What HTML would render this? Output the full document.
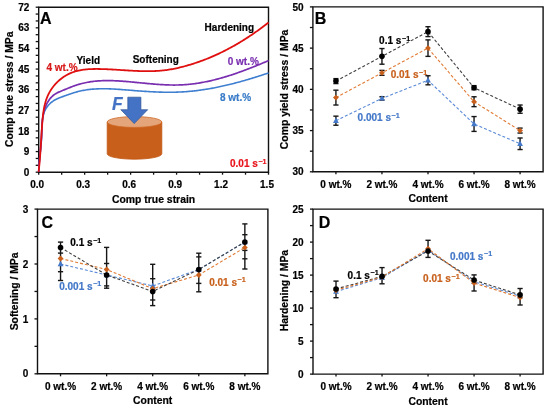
<!DOCTYPE html>
<html><head><meta charset="utf-8"><style>
html,body{margin:0;padding:0;background:#fff;width:550px;height:409px;overflow:hidden}
svg{display:block;filter:blur(0.35px)}
text{font-family:"Liberation Sans", sans-serif;font-weight:bold;stroke-width:0.2px;paint-order:normal}
</style></head><body>
<svg width="550" height="409" viewBox="0 0 550 409">
<rect width="550" height="409" fill="#fff"/>
<line x1="35.7" y1="172.2" x2="38.7" y2="172.2" stroke="#111" stroke-width="1.3" />
<text x="29.3" y="175.8" font-size="10" text-anchor="end" fill="#000" stroke="#000" >0</text>
<line x1="35.7" y1="165.32" x2="38.7" y2="165.32" stroke="#111" stroke-width="1.3" />
<line x1="35.7" y1="158.45" x2="38.7" y2="158.45" stroke="#111" stroke-width="1.3" />
<line x1="35.7" y1="151.57" x2="38.7" y2="151.57" stroke="#111" stroke-width="1.3" />
<text x="29.3" y="155.17" font-size="10" text-anchor="end" fill="#000" stroke="#000" >9</text>
<line x1="35.7" y1="144.7" x2="38.7" y2="144.7" stroke="#111" stroke-width="1.3" />
<line x1="35.7" y1="137.82" x2="38.7" y2="137.82" stroke="#111" stroke-width="1.3" />
<line x1="35.7" y1="130.95" x2="38.7" y2="130.95" stroke="#111" stroke-width="1.3" />
<text x="29.3" y="134.55" font-size="10" text-anchor="end" fill="#000" stroke="#000" >18</text>
<line x1="35.7" y1="124.07" x2="38.7" y2="124.07" stroke="#111" stroke-width="1.3" />
<line x1="35.7" y1="117.2" x2="38.7" y2="117.2" stroke="#111" stroke-width="1.3" />
<line x1="35.7" y1="110.32" x2="38.7" y2="110.32" stroke="#111" stroke-width="1.3" />
<text x="29.3" y="113.92" font-size="10" text-anchor="end" fill="#000" stroke="#000" >27</text>
<line x1="35.7" y1="103.45" x2="38.7" y2="103.45" stroke="#111" stroke-width="1.3" />
<line x1="35.7" y1="96.57" x2="38.7" y2="96.57" stroke="#111" stroke-width="1.3" />
<line x1="35.7" y1="89.7" x2="38.7" y2="89.7" stroke="#111" stroke-width="1.3" />
<text x="29.3" y="93.3" font-size="10" text-anchor="end" fill="#000" stroke="#000" >36</text>
<line x1="35.7" y1="82.82" x2="38.7" y2="82.82" stroke="#111" stroke-width="1.3" />
<line x1="35.7" y1="75.95" x2="38.7" y2="75.95" stroke="#111" stroke-width="1.3" />
<line x1="35.7" y1="69.07" x2="38.7" y2="69.07" stroke="#111" stroke-width="1.3" />
<text x="29.3" y="72.67" font-size="10" text-anchor="end" fill="#000" stroke="#000" >45</text>
<line x1="35.7" y1="62.2" x2="38.7" y2="62.2" stroke="#111" stroke-width="1.3" />
<line x1="35.7" y1="55.32" x2="38.7" y2="55.32" stroke="#111" stroke-width="1.3" />
<line x1="35.7" y1="48.45" x2="38.7" y2="48.45" stroke="#111" stroke-width="1.3" />
<text x="29.3" y="52.05" font-size="10" text-anchor="end" fill="#000" stroke="#000" >54</text>
<line x1="35.7" y1="41.57" x2="38.7" y2="41.57" stroke="#111" stroke-width="1.3" />
<line x1="35.7" y1="34.7" x2="38.7" y2="34.7" stroke="#111" stroke-width="1.3" />
<line x1="35.7" y1="27.82" x2="38.7" y2="27.82" stroke="#111" stroke-width="1.3" />
<text x="29.3" y="31.42" font-size="10" text-anchor="end" fill="#000" stroke="#000" >63</text>
<line x1="35.7" y1="20.95" x2="38.7" y2="20.95" stroke="#111" stroke-width="1.3" />
<line x1="35.7" y1="14.07" x2="38.7" y2="14.07" stroke="#111" stroke-width="1.3" />
<line x1="35.7" y1="7.2" x2="38.7" y2="7.2" stroke="#111" stroke-width="1.3" />
<text x="29.3" y="10.8" font-size="10" text-anchor="end" fill="#000" stroke="#000" >72</text>
<line x1="38.7" y1="172.2" x2="38.7" y2="174.7" stroke="#111" stroke-width="1.3" />
<text x="37.2" y="188" font-size="10" text-anchor="middle" fill="#000" stroke="#000" >0.0</text>
<line x1="61.68" y1="172.2" x2="61.68" y2="174.7" stroke="#111" stroke-width="1.3" />
<line x1="84.66" y1="172.2" x2="84.66" y2="174.7" stroke="#111" stroke-width="1.3" />
<text x="83.16" y="188" font-size="10" text-anchor="middle" fill="#000" stroke="#000" >0.3</text>
<line x1="107.64" y1="172.2" x2="107.64" y2="174.7" stroke="#111" stroke-width="1.3" />
<line x1="130.62" y1="172.2" x2="130.62" y2="174.7" stroke="#111" stroke-width="1.3" />
<text x="129.12" y="188" font-size="10" text-anchor="middle" fill="#000" stroke="#000" >0.6</text>
<line x1="153.6" y1="172.2" x2="153.6" y2="174.7" stroke="#111" stroke-width="1.3" />
<line x1="176.58" y1="172.2" x2="176.58" y2="174.7" stroke="#111" stroke-width="1.3" />
<text x="175.08" y="188" font-size="10" text-anchor="middle" fill="#000" stroke="#000" >0.9</text>
<line x1="199.56" y1="172.2" x2="199.56" y2="174.7" stroke="#111" stroke-width="1.3" />
<line x1="222.54" y1="172.2" x2="222.54" y2="174.7" stroke="#111" stroke-width="1.3" />
<text x="221.04" y="188" font-size="10" text-anchor="middle" fill="#000" stroke="#000" >1.2</text>
<line x1="245.52" y1="172.2" x2="245.52" y2="174.7" stroke="#111" stroke-width="1.3" />
<line x1="268.5" y1="172.2" x2="268.5" y2="174.7" stroke="#111" stroke-width="1.3" />
<text x="267" y="188" font-size="10" text-anchor="middle" fill="#000" stroke="#000" >1.5</text>
<path d="M38.7,172.2 V7.2 H268.5 V172.2 H38.7Z" fill="none" stroke="#111" stroke-width="1.4"/>
<text x="153.6" y="202.8" font-size="10.4" text-anchor="middle" fill="#000" stroke="#000" >Comp true strain</text>
<text transform="translate(13.0,89.2) rotate(-90)" font-size="10.4" text-anchor="middle" fill="#000" stroke="#000">Comp true stress / MPa</text>
<text x="40" y="23.6" font-size="16" text-anchor="start" fill="#000" stroke="#000" >A</text>
<path d="M38.74,172.04 L38.76,170.84 L38.79,169.65 L38.84,168.47 L38.89,167.30 L38.95,166.14 L39.03,164.99 L39.11,163.85 L39.20,162.72 L39.29,161.59 L39.39,160.47 L39.50,159.35 L39.61,158.24 L39.73,157.14 L39.84,156.03 L39.96,154.93 L40.08,153.84 L40.20,152.74 L40.33,151.64 L40.45,150.54 L40.57,149.44 L40.68,148.34 L40.80,147.24 L40.91,146.14 L41.01,145.03 L41.11,143.91 L41.20,142.79 L41.29,141.67 L41.37,140.53 L41.44,139.39 L41.50,138.24 L41.56,137.09 L41.60,135.92 L41.64,134.74 L41.67,133.56 L41.69,132.38 L41.72,131.19 L41.75,129.99 L41.78,128.80 L41.82,127.61 L41.87,126.42 L41.93,125.23 L42.00,124.05 L42.09,122.88 L42.20,121.71 L42.33,120.55 L42.48,119.41 L42.66,118.27 L42.87,117.15 L43.10,116.05 L43.37,114.96 L43.68,113.89 L44.02,112.84 L44.40,111.81 L44.83,110.80 L45.30,109.82 L45.81,108.86 L46.38,107.93 L46.99,107.03 L47.64,106.15 L48.34,105.31 L49.08,104.50 L49.86,103.71 L50.68,102.96 L51.53,102.24 L52.42,101.56 L53.33,100.91 L54.28,100.30 L55.26,99.72 L56.26,99.19 L57.29,98.69 L58.34,98.23 L59.40,97.80 L60.49,97.39 L61.58,97.00 L62.67,96.62 L63.76,96.23 L64.86,95.85 L65.95,95.46 L67.04,95.07 L68.14,94.69 L69.23,94.31 L70.32,93.94 L71.42,93.57 L72.51,93.21 L73.61,92.86 L74.70,92.52 L75.80,92.20 L76.90,91.89 L78.00,91.59 L79.10,91.32 L80.21,91.06 L81.31,90.81 L82.42,90.58 L83.53,90.37 L84.64,90.17 L85.76,89.99 L86.87,89.82 L87.99,89.66 L89.10,89.52 L90.22,89.39 L91.34,89.28 L92.46,89.17 L93.58,89.08 L94.71,89.00 L95.83,88.93 L96.96,88.88 L98.09,88.83 L99.21,88.79 L100.34,88.76 L101.47,88.75 L102.60,88.74 L103.74,88.74 L104.87,88.74 L106.00,88.76 L107.14,88.78 L108.27,88.81 L109.41,88.85 L110.54,88.89 L111.68,88.94 L112.82,89.00 L113.96,89.06 L115.09,89.12 L116.23,89.19 L117.37,89.26 L118.51,89.34 L119.65,89.42 L120.79,89.50 L121.93,89.59 L123.07,89.68 L124.21,89.77 L125.35,89.86 L126.49,89.95 L127.63,90.04 L128.77,90.13 L129.91,90.23 L131.05,90.32 L132.19,90.41 L133.33,90.50 L134.47,90.59 L135.61,90.68 L136.75,90.77 L137.89,90.85 L139.02,90.94 L140.16,91.02 L141.30,91.10 L142.44,91.18 L143.58,91.26 L144.72,91.34 L145.85,91.41 L146.99,91.48 L148.13,91.55 L149.26,91.62 L150.40,91.68 L151.54,91.75 L152.67,91.80 L153.81,91.86 L154.95,91.91 L156.08,91.96 L157.22,92.01 L158.35,92.05 L159.49,92.09 L160.63,92.12 L161.76,92.15 L162.90,92.18 L164.03,92.20 L165.16,92.22 L166.30,92.24 L167.43,92.25 L168.57,92.25 L169.70,92.25 L170.84,92.25 L171.97,92.24 L173.10,92.22 L174.24,92.20 L175.37,92.18 L176.50,92.15 L177.63,92.11 L178.77,92.07 L179.90,92.02 L181.03,91.97 L182.16,91.91 L183.30,91.84 L184.43,91.77 L185.56,91.69 L186.69,91.61 L187.82,91.52 L188.95,91.42 L190.08,91.32 L191.21,91.21 L192.34,91.10 L193.47,90.98 L194.60,90.85 L195.73,90.72 L196.86,90.59 L197.99,90.45 L199.11,90.30 L200.24,90.15 L201.37,89.99 L202.49,89.83 L203.62,89.66 L204.75,89.48 L205.87,89.31 L206.99,89.12 L208.12,88.94 L209.24,88.74 L210.36,88.55 L211.49,88.34 L212.61,88.14 L213.73,87.93 L214.85,87.71 L215.97,87.49 L217.09,87.26 L218.21,87.04 L219.32,86.80 L220.44,86.56 L221.55,86.32 L222.67,86.08 L223.78,85.83 L224.90,85.57 L226.01,85.32 L227.12,85.06 L228.23,84.79 L229.34,84.52 L230.45,84.25 L231.56,83.97 L232.67,83.69 L233.77,83.41 L234.88,83.13 L235.98,82.84 L237.09,82.54 L238.19,82.25 L239.29,81.95 L240.39,81.65 L241.49,81.34 L242.59,81.03 L243.69,80.72 L244.78,80.41 L245.88,80.09 L246.97,79.77 L248.06,79.45 L249.15,79.13 L250.24,78.80 L251.33,78.47 L252.42,78.14 L253.51,77.80 L254.59,77.47 L255.67,77.13 L256.76,76.79 L257.84,76.45 L258.92,76.10 L260.00,75.76 L261.07,75.41 L262.15,75.06 L263.22,74.71 L264.29,74.35 L265.37,74.00 L266.44,73.64 L267.50,73.28 L268.57,72.92" fill="none" stroke="#3f7fd0" stroke-width="1.6"/>
<path d="M38.73,172.02 L38.77,170.83 L38.82,169.65 L38.88,168.47 L38.94,167.29 L39.01,166.12 L39.09,164.95 L39.18,163.79 L39.27,162.63 L39.36,161.47 L39.46,160.31 L39.56,159.16 L39.67,158.01 L39.78,156.86 L39.89,155.71 L40.00,154.56 L40.12,153.41 L40.23,152.26 L40.34,151.11 L40.46,149.97 L40.57,148.82 L40.68,147.67 L40.79,146.52 L40.89,145.37 L40.99,144.22 L41.09,143.06 L41.18,141.91 L41.27,140.75 L41.35,139.58 L41.43,138.42 L41.50,137.25 L41.56,136.08 L41.62,134.91 L41.67,133.73 L41.72,132.55 L41.77,131.37 L41.82,130.18 L41.87,129.00 L41.92,127.82 L41.98,126.64 L42.05,125.46 L42.12,124.28 L42.21,123.10 L42.30,121.93 L42.41,120.76 L42.54,119.59 L42.68,118.43 L42.84,117.27 L43.01,116.12 L43.21,114.97 L43.44,113.83 L43.68,112.70 L43.95,111.58 L44.25,110.46 L44.58,109.35 L44.94,108.25 L45.34,107.17 L45.76,106.09 L46.22,105.02 L46.72,103.97 L47.25,102.94 L47.82,101.93 L48.43,100.94 L49.07,99.98 L49.75,99.06 L50.47,98.16 L51.23,97.31 L52.03,96.50 L52.87,95.73 L53.74,95.00 L54.66,94.33 L55.62,93.72 L56.62,93.15 L57.64,92.62 L58.70,92.13 L59.77,91.66 L60.86,91.20 L61.96,90.75 L63.06,90.30 L64.16,89.85 L65.26,89.40 L66.37,88.95 L67.47,88.49 L68.58,88.05 L69.69,87.60 L70.80,87.16 L71.91,86.74 L73.03,86.32 L74.14,85.91 L75.26,85.51 L76.38,85.14 L77.50,84.77 L78.62,84.43 L79.74,84.10 L80.87,83.79 L82.00,83.49 L83.13,83.22 L84.26,82.96 L85.39,82.71 L86.52,82.48 L87.66,82.27 L88.79,82.07 L89.93,81.88 L91.07,81.71 L92.21,81.56 L93.35,81.41 L94.49,81.28 L95.64,81.17 L96.78,81.06 L97.93,80.97 L99.08,80.89 L100.23,80.82 L101.38,80.76 L102.53,80.71 L103.68,80.67 L104.83,80.65 L105.98,80.63 L107.14,80.62 L108.29,80.62 L109.45,80.63 L110.61,80.65 L111.76,80.67 L112.92,80.71 L114.08,80.75 L115.24,80.79 L116.40,80.85 L117.56,80.91 L118.72,80.97 L119.89,81.04 L121.05,81.12 L122.21,81.20 L123.38,81.29 L124.54,81.37 L125.70,81.47 L126.87,81.57 L128.03,81.66 L129.20,81.77 L130.36,81.87 L131.53,81.98 L132.69,82.09 L133.86,82.20 L135.02,82.31 L136.19,82.42 L137.35,82.54 L138.52,82.65 L139.69,82.77 L140.85,82.88 L142.02,82.99 L143.18,83.11 L144.35,83.22 L145.52,83.33 L146.68,83.44 L147.85,83.55 L149.01,83.66 L150.18,83.76 L151.34,83.87 L152.51,83.97 L153.68,84.06 L154.84,84.16 L156.01,84.25 L157.17,84.33 L158.34,84.42 L159.50,84.50 L160.66,84.57 L161.83,84.64 L162.99,84.71 L164.16,84.77 L165.32,84.82 L166.48,84.87 L167.65,84.91 L168.81,84.95 L169.97,84.98 L171.13,85.00 L172.29,85.02 L173.45,85.03 L174.61,85.03 L175.77,85.02 L176.93,85.01 L178.09,84.98 L179.25,84.95 L180.41,84.91 L181.57,84.86 L182.73,84.80 L183.88,84.74 L185.04,84.66 L186.19,84.57 L187.35,84.48 L188.50,84.37 L189.66,84.26 L190.81,84.14 L191.96,84.00 L193.11,83.86 L194.27,83.72 L195.42,83.56 L196.56,83.39 L197.71,83.22 L198.86,83.04 L200.01,82.85 L201.15,82.65 L202.30,82.45 L203.44,82.24 L204.59,82.02 L205.73,81.79 L206.87,81.56 L208.01,81.32 L209.15,81.07 L210.29,80.81 L211.43,80.55 L212.56,80.28 L213.70,80.01 L214.83,79.73 L215.97,79.44 L217.10,79.15 L218.23,78.85 L219.36,78.54 L220.49,78.23 L221.61,77.92 L222.74,77.59 L223.86,77.27 L224.99,76.93 L226.11,76.59 L227.23,76.25 L228.35,75.90 L229.47,75.55 L230.58,75.19 L231.70,74.83 L232.81,74.46 L233.92,74.09 L235.03,73.71 L236.14,73.33 L237.25,72.95 L238.35,72.56 L239.46,72.17 L240.56,71.78 L241.66,71.38 L242.76,70.98 L243.86,70.57 L244.95,70.16 L246.05,69.75 L247.14,69.33 L248.23,68.92 L249.32,68.50 L250.41,68.07 L251.49,67.65 L252.57,67.22 L253.65,66.79 L254.73,66.36 L255.81,65.92 L256.89,65.48 L257.96,65.05 L259.03,64.61 L260.10,64.16 L261.17,63.72 L262.23,63.28 L263.30,62.83 L264.36,62.38 L265.42,61.94 L266.47,61.49 L267.53,61.04 L268.58,60.59" fill="none" stroke="#7a2fb0" stroke-width="1.7"/>
<path d="M38.58,171.97 L38.72,170.73 L38.86,169.50 L38.99,168.26 L39.12,167.03 L39.25,165.79 L39.37,164.56 L39.48,163.33 L39.59,162.10 L39.70,160.88 L39.81,159.65 L39.91,158.42 L40.00,157.20 L40.10,155.97 L40.19,154.75 L40.28,153.53 L40.37,152.30 L40.45,151.08 L40.53,149.86 L40.61,148.63 L40.69,147.41 L40.77,146.18 L40.85,144.96 L40.92,143.73 L41.00,142.51 L41.07,141.28 L41.15,140.05 L41.22,138.82 L41.30,137.59 L41.37,136.36 L41.45,135.13 L41.52,133.89 L41.60,132.66 L41.68,131.42 L41.76,130.18 L41.84,128.94 L41.92,127.69 L42.01,126.44 L42.10,125.19 L42.19,123.94 L42.28,122.69 L42.38,121.43 L42.48,120.18 L42.59,118.92 L42.71,117.67 L42.84,116.41 L42.98,115.16 L43.14,113.91 L43.30,112.67 L43.48,111.42 L43.68,110.19 L43.89,108.95 L44.12,107.73 L44.37,106.51 L44.64,105.30 L44.93,104.09 L45.24,102.90 L45.58,101.72 L45.94,100.54 L46.33,99.38 L46.75,98.22 L47.20,97.08 L47.68,95.95 L48.18,94.84 L48.72,93.74 L49.29,92.65 L49.90,91.58 L50.53,90.53 L51.19,89.49 L51.88,88.48 L52.60,87.48 L53.34,86.50 L54.12,85.54 L54.91,84.60 L55.74,83.68 L56.58,82.79 L57.45,81.92 L58.35,81.08 L59.26,80.25 L60.20,79.46 L61.15,78.69 L62.13,77.95 L63.12,77.24 L64.14,76.55 L65.17,75.90 L66.22,75.28 L67.28,74.68 L68.36,74.12 L69.46,73.60 L70.57,73.10 L71.69,72.64 L72.83,72.22 L73.97,71.82 L75.13,71.46 L76.30,71.13 L77.48,70.83 L78.67,70.55 L79.87,70.30 L81.08,70.08 L82.29,69.88 L83.51,69.71 L84.74,69.55 L85.97,69.42 L87.21,69.31 L88.46,69.21 L89.71,69.14 L90.96,69.07 L92.21,69.03 L93.47,69.00 L94.73,68.98 L95.99,68.97 L97.25,68.97 L98.51,68.98 L99.77,69.00 L101.03,69.03 L102.28,69.06 L103.54,69.10 L104.79,69.14 L106.05,69.19 L107.30,69.24 L108.55,69.30 L109.80,69.36 L111.04,69.42 L112.29,69.49 L113.54,69.56 L114.78,69.64 L116.02,69.71 L117.26,69.79 L118.51,69.87 L119.75,69.95 L120.98,70.03 L122.22,70.11 L123.46,70.19 L124.70,70.27 L125.93,70.35 L127.16,70.43 L128.40,70.51 L129.63,70.58 L130.86,70.65 L132.09,70.72 L133.33,70.79 L134.56,70.85 L135.78,70.91 L137.01,70.96 L138.24,71.01 L139.47,71.06 L140.70,71.10 L141.92,71.13 L143.15,71.16 L144.37,71.18 L145.60,71.20 L146.82,71.20 L148.05,71.20 L149.27,71.19 L150.50,71.18 L151.72,71.15 L152.94,71.12 L154.17,71.07 L155.39,71.02 L156.61,70.95 L157.84,70.88 L159.06,70.79 L160.28,70.69 L161.51,70.58 L162.73,70.46 L163.95,70.33 L165.17,70.18 L166.40,70.02 L167.62,69.85 L168.84,69.66 L170.06,69.47 L171.29,69.26 L172.51,69.04 L173.73,68.80 L174.95,68.56 L176.16,68.31 L177.38,68.04 L178.59,67.77 L179.81,67.48 L181.02,67.19 L182.23,66.88 L183.44,66.57 L184.64,66.25 L185.85,65.92 L187.05,65.58 L188.24,65.24 L189.44,64.88 L190.63,64.52 L191.82,64.16 L193.00,63.78 L194.19,63.40 L195.37,63.01 L196.54,62.62 L197.72,62.22 L198.89,61.81 L200.05,61.39 L201.22,60.97 L202.38,60.54 L203.54,60.11 L204.69,59.66 L205.85,59.22 L206.99,58.76 L208.14,58.30 L209.28,57.83 L210.42,57.36 L211.56,56.87 L212.69,56.39 L213.83,55.89 L214.95,55.39 L216.08,54.89 L217.20,54.37 L218.32,53.85 L219.43,53.33 L220.55,52.80 L221.66,52.26 L222.76,51.72 L223.87,51.17 L224.97,50.61 L226.07,50.05 L227.16,49.48 L228.25,48.91 L229.34,48.33 L230.43,47.75 L231.51,47.15 L232.59,46.56 L233.67,45.96 L234.75,45.35 L235.82,44.73 L236.89,44.12 L237.95,43.49 L239.01,42.86 L240.07,42.23 L241.13,41.58 L242.18,40.94 L243.23,40.29 L244.28,39.63 L245.33,38.97 L246.37,38.30 L247.41,37.63 L248.44,36.96 L249.48,36.28 L250.51,35.59 L251.54,34.90 L252.56,34.21 L253.58,33.51 L254.60,32.80 L255.62,32.10 L256.63,31.38 L257.64,30.67 L258.64,29.95 L259.65,29.22 L260.65,28.49 L261.65,27.76 L262.64,27.02 L263.63,26.28 L264.62,25.54 L265.61,24.79 L266.59,24.04 L267.57,23.28 L268.55,22.53" fill="none" stroke="#e01010" stroke-width="1.8"/>
<text x="76.5" y="63.5" font-size="10" text-anchor="start" fill="#000" stroke="#000" >Yield</text>
<text x="132.7" y="63.3" font-size="10" text-anchor="start" fill="#000" stroke="#000" >Softening</text>
<text x="204.6" y="30.8" font-size="10" text-anchor="start" fill="#000" stroke="#000" >Hardening</text>
<text x="46.5" y="71" font-size="10" text-anchor="start" fill="#d81a1a" stroke="#d81a1a" >4 wt.%</text>
<text x="227.7" y="64.6" font-size="10" text-anchor="start" fill="#7a2fb0" stroke="#7a2fb0" >0 wt.%</text>
<text x="220" y="100.6" font-size="10" text-anchor="start" fill="#3a7cc8" stroke="#3a7cc8" >8 wt.%</text>
<text x="230" y="167.4" font-size="10" text-anchor="start" fill="#e8141c" stroke="#e8141c">0.01 s<tspan font-size="7.2" dx="0.6" dy="-3.4">−1</tspan></text>
<path d="M107.2,122 V153.8 A27.3,5.4 0 0 0 161.8,153.8 V122 Z" fill="#c85f1a" stroke="#c25612" stroke-width="0.8"/>
<ellipse cx="134.5" cy="122" rx="27.3" ry="5.4" fill="#e5a57b" stroke="#cf6a28" stroke-width="0.8"/>
<path d="M127.8,97.2 H140.9 V109.7 H147.7 L134.2,123.6 L120.8,109.7 H127.8 Z" fill="#4472c4" stroke="#2f5597" stroke-width="0.7"/>
<text x="112.0" y="109.6" font-size="17.5" font-style="italic" fill="#4472c4" stroke="#4472c4" stroke-width="0.45">F</text>
<line x1="309.9" y1="171.8" x2="312.9" y2="171.8" stroke="#111" stroke-width="1.3" />
<text x="303.6" y="175.4" font-size="10" text-anchor="end" fill="#000" stroke="#000" >30</text>
<line x1="309.9" y1="151.19" x2="312.9" y2="151.19" stroke="#111" stroke-width="1.3" />
<line x1="309.9" y1="130.58" x2="312.9" y2="130.58" stroke="#111" stroke-width="1.3" />
<text x="303.6" y="134.18" font-size="10" text-anchor="end" fill="#000" stroke="#000" >35</text>
<line x1="309.9" y1="109.96" x2="312.9" y2="109.96" stroke="#111" stroke-width="1.3" />
<line x1="309.9" y1="89.35" x2="312.9" y2="89.35" stroke="#111" stroke-width="1.3" />
<text x="303.6" y="92.95" font-size="10" text-anchor="end" fill="#000" stroke="#000" >40</text>
<line x1="309.9" y1="68.74" x2="312.9" y2="68.74" stroke="#111" stroke-width="1.3" />
<line x1="309.9" y1="48.12" x2="312.9" y2="48.12" stroke="#111" stroke-width="1.3" />
<text x="303.6" y="51.73" font-size="10" text-anchor="end" fill="#000" stroke="#000" >45</text>
<line x1="309.9" y1="27.51" x2="312.9" y2="27.51" stroke="#111" stroke-width="1.3" />
<line x1="309.9" y1="6.9" x2="312.9" y2="6.9" stroke="#111" stroke-width="1.3" />
<text x="303.6" y="10.5" font-size="10" text-anchor="end" fill="#000" stroke="#000" >50</text>
<line x1="335.92" y1="171.8" x2="335.92" y2="174.3" stroke="#111" stroke-width="1.3" />
<text x="335.92" y="188.1" font-size="10" text-anchor="middle" fill="#000" stroke="#000" >0 wt.%</text>
<line x1="381.96" y1="171.8" x2="381.96" y2="174.3" stroke="#111" stroke-width="1.3" />
<text x="381.96" y="188.1" font-size="10" text-anchor="middle" fill="#000" stroke="#000" >2 wt.%</text>
<line x1="428" y1="171.8" x2="428" y2="174.3" stroke="#111" stroke-width="1.3" />
<text x="428" y="188.1" font-size="10" text-anchor="middle" fill="#000" stroke="#000" >4 wt.%</text>
<line x1="474.04" y1="171.8" x2="474.04" y2="174.3" stroke="#111" stroke-width="1.3" />
<text x="474.04" y="188.1" font-size="10" text-anchor="middle" fill="#000" stroke="#000" >6 wt.%</text>
<line x1="520.08" y1="171.8" x2="520.08" y2="174.3" stroke="#111" stroke-width="1.3" />
<text x="520.08" y="188.1" font-size="10" text-anchor="middle" fill="#000" stroke="#000" >8 wt.%</text>
<path d="M312.9,171.8 V6.9 H543.1 V171.8 H312.9Z" fill="none" stroke="#111" stroke-width="1.4"/>
<text x="428" y="202.3" font-size="10.4" text-anchor="middle" fill="#000" stroke="#000" >Content</text>
<text x="314.8" y="23.6" font-size="16" text-anchor="start" fill="#000" stroke="#000" >B</text>
<text transform="translate(287.6,89.4) rotate(-90)" font-size="10.4" text-anchor="middle" fill="#000" stroke="#000">Comp yield stress / MPa</text>
<polyline points="335.92,81.11 381.96,56.37 428,31.64 474.04,87.7 520.08,109.14" fill="none" stroke="#404040" stroke-width="1.1" stroke-dasharray="3 2"/>
<polyline points="335.92,97.6 381.96,72.86 428,48.12 474.04,101.72 520.08,130.58" fill="none" stroke="#e07a34" stroke-width="1.1" stroke-dasharray="3 2"/>
<polyline points="335.92,120.68 381.96,98.42 428,80.28 474.04,123.98 520.08,143.77" fill="none" stroke="#5a8ad6" stroke-width="1.1" stroke-dasharray="3 2"/>
<line x1="335.92" y1="78.63" x2="335.92" y2="83.58" stroke="#161616" stroke-width="1.4" />
<line x1="333.32" y1="78.63" x2="338.52" y2="78.63" stroke="#161616" stroke-width="1.4" />
<line x1="333.32" y1="83.58" x2="338.52" y2="83.58" stroke="#161616" stroke-width="1.4" />
<line x1="381.96" y1="48.54" x2="381.96" y2="64.2" stroke="#161616" stroke-width="1.4" />
<line x1="379.36" y1="48.54" x2="384.56" y2="48.54" stroke="#161616" stroke-width="1.4" />
<line x1="379.36" y1="64.2" x2="384.56" y2="64.2" stroke="#161616" stroke-width="1.4" />
<line x1="428" y1="26.69" x2="428" y2="36.58" stroke="#161616" stroke-width="1.4" />
<line x1="425.4" y1="26.69" x2="430.6" y2="26.69" stroke="#161616" stroke-width="1.4" />
<line x1="425.4" y1="36.58" x2="430.6" y2="36.58" stroke="#161616" stroke-width="1.4" />
<line x1="474.04" y1="85.64" x2="474.04" y2="89.76" stroke="#161616" stroke-width="1.4" />
<line x1="471.44" y1="85.64" x2="476.64" y2="85.64" stroke="#161616" stroke-width="1.4" />
<line x1="471.44" y1="89.76" x2="476.64" y2="89.76" stroke="#161616" stroke-width="1.4" />
<line x1="520.08" y1="105.02" x2="520.08" y2="113.26" stroke="#161616" stroke-width="1.4" />
<line x1="517.48" y1="105.02" x2="522.68" y2="105.02" stroke="#161616" stroke-width="1.4" />
<line x1="517.48" y1="113.26" x2="522.68" y2="113.26" stroke="#161616" stroke-width="1.4" />
<line x1="335.92" y1="90.17" x2="335.92" y2="105.02" stroke="#161616" stroke-width="1.4" />
<line x1="333.32" y1="90.17" x2="338.52" y2="90.17" stroke="#161616" stroke-width="1.4" />
<line x1="333.32" y1="105.02" x2="338.52" y2="105.02" stroke="#161616" stroke-width="1.4" />
<line x1="381.96" y1="70.39" x2="381.96" y2="75.33" stroke="#161616" stroke-width="1.4" />
<line x1="379.36" y1="70.39" x2="384.56" y2="70.39" stroke="#161616" stroke-width="1.4" />
<line x1="379.36" y1="75.33" x2="384.56" y2="75.33" stroke="#161616" stroke-width="1.4" />
<line x1="428" y1="39.88" x2="428" y2="56.37" stroke="#161616" stroke-width="1.4" />
<line x1="425.4" y1="39.88" x2="430.6" y2="39.88" stroke="#161616" stroke-width="1.4" />
<line x1="425.4" y1="56.37" x2="430.6" y2="56.37" stroke="#161616" stroke-width="1.4" />
<line x1="474.04" y1="96.77" x2="474.04" y2="106.66" stroke="#161616" stroke-width="1.4" />
<line x1="471.44" y1="96.77" x2="476.64" y2="96.77" stroke="#161616" stroke-width="1.4" />
<line x1="471.44" y1="106.66" x2="476.64" y2="106.66" stroke="#161616" stroke-width="1.4" />
<line x1="520.08" y1="128.1" x2="520.08" y2="133.05" stroke="#161616" stroke-width="1.4" />
<line x1="517.48" y1="128.1" x2="522.68" y2="128.1" stroke="#161616" stroke-width="1.4" />
<line x1="517.48" y1="133.05" x2="522.68" y2="133.05" stroke="#161616" stroke-width="1.4" />
<line x1="335.92" y1="116.15" x2="335.92" y2="125.22" stroke="#161616" stroke-width="1.4" />
<line x1="333.32" y1="116.15" x2="338.52" y2="116.15" stroke="#161616" stroke-width="1.4" />
<line x1="333.32" y1="125.22" x2="338.52" y2="125.22" stroke="#161616" stroke-width="1.4" />
<line x1="381.96" y1="96.77" x2="381.96" y2="100.07" stroke="#161616" stroke-width="1.4" />
<line x1="379.36" y1="96.77" x2="384.56" y2="96.77" stroke="#161616" stroke-width="1.4" />
<line x1="379.36" y1="100.07" x2="384.56" y2="100.07" stroke="#161616" stroke-width="1.4" />
<line x1="428" y1="75.75" x2="428" y2="84.82" stroke="#161616" stroke-width="1.4" />
<line x1="425.4" y1="75.75" x2="430.6" y2="75.75" stroke="#161616" stroke-width="1.4" />
<line x1="425.4" y1="84.82" x2="430.6" y2="84.82" stroke="#161616" stroke-width="1.4" />
<line x1="474.04" y1="116.56" x2="474.04" y2="131.4" stroke="#161616" stroke-width="1.4" />
<line x1="471.44" y1="116.56" x2="476.64" y2="116.56" stroke="#161616" stroke-width="1.4" />
<line x1="471.44" y1="131.4" x2="476.64" y2="131.4" stroke="#161616" stroke-width="1.4" />
<line x1="520.08" y1="138" x2="520.08" y2="149.54" stroke="#161616" stroke-width="1.4" />
<line x1="517.48" y1="138" x2="522.68" y2="138" stroke="#161616" stroke-width="1.4" />
<line x1="517.48" y1="149.54" x2="522.68" y2="149.54" stroke="#161616" stroke-width="1.4" />
<path d="M335.92,117.48 L338.82,122.88 L333.02,122.88 Z" fill="#4478c8"/>
<path d="M381.96,95.22 L384.86,100.62 L379.06,100.62 Z" fill="#4478c8"/>
<path d="M428,77.08 L430.9,82.48 L425.1,82.48 Z" fill="#4478c8"/>
<path d="M474.04,120.78 L476.94,126.18 L471.14,126.18 Z" fill="#4478c8"/>
<path d="M520.08,140.57 L522.98,145.97 L517.18,145.97 Z" fill="#4478c8"/>
<path d="M335.92,94.7 L338.82,97.6 L335.92,100.5 L333.02,97.6 Z" fill="#c8601c"/>
<path d="M381.96,69.96 L384.86,72.86 L381.96,75.76 L379.06,72.86 Z" fill="#c8601c"/>
<path d="M428,45.23 L430.9,48.12 L428,51.02 L425.1,48.12 Z" fill="#c8601c"/>
<path d="M474.04,98.82 L476.94,101.72 L474.04,104.62 L471.14,101.72 Z" fill="#c8601c"/>
<path d="M520.08,127.68 L522.98,130.58 L520.08,133.48 L517.18,130.58 Z" fill="#c8601c"/>
<circle cx="335.92" cy="81.11" r="2.8" fill="#000"/>
<circle cx="381.96" cy="56.37" r="2.8" fill="#000"/>
<circle cx="428" cy="31.64" r="2.8" fill="#000"/>
<circle cx="474.04" cy="87.7" r="2.8" fill="#000"/>
<circle cx="520.08" cy="109.14" r="2.8" fill="#000"/>
<text x="379.1" y="44.4" font-size="10" text-anchor="start" fill="#000" stroke="#000">0.1 s<tspan font-size="7.2" dx="0.6" dy="-3.4">−1</tspan></text>
<text x="390.7" y="78.2" font-size="10" text-anchor="start" fill="#c8601c" stroke="#c8601c">0.01 s<tspan font-size="7.2" dx="0.6" dy="-3.4">−1</tspan></text>
<text x="357.6" y="121.2" font-size="10" text-anchor="start" fill="#4478c8" stroke="#4478c8">0.001 s<tspan font-size="7.2" dx="0.6" dy="-3.4">−1</tspan></text>
<line x1="34.5" y1="373.8" x2="37.5" y2="373.8" stroke="#111" stroke-width="1.3" />
<text x="28.4" y="377.4" font-size="10" text-anchor="end" fill="#000" stroke="#000" >0</text>
<line x1="34.5" y1="346.35" x2="37.5" y2="346.35" stroke="#111" stroke-width="1.3" />
<line x1="34.5" y1="318.9" x2="37.5" y2="318.9" stroke="#111" stroke-width="1.3" />
<text x="28.4" y="322.5" font-size="10" text-anchor="end" fill="#000" stroke="#000" >1</text>
<line x1="34.5" y1="291.45" x2="37.5" y2="291.45" stroke="#111" stroke-width="1.3" />
<line x1="34.5" y1="264" x2="37.5" y2="264" stroke="#111" stroke-width="1.3" />
<text x="28.4" y="267.6" font-size="10" text-anchor="end" fill="#000" stroke="#000" >2</text>
<line x1="34.5" y1="236.55" x2="37.5" y2="236.55" stroke="#111" stroke-width="1.3" />
<line x1="34.5" y1="209.1" x2="37.5" y2="209.1" stroke="#111" stroke-width="1.3" />
<text x="28.4" y="212.7" font-size="10" text-anchor="end" fill="#000" stroke="#000" >3</text>
<line x1="60.54" y1="373.8" x2="60.54" y2="376.3" stroke="#111" stroke-width="1.3" />
<text x="60.54" y="390.1" font-size="10" text-anchor="middle" fill="#000" stroke="#000" >0 wt.%</text>
<line x1="106.62" y1="373.8" x2="106.62" y2="376.3" stroke="#111" stroke-width="1.3" />
<text x="106.62" y="390.1" font-size="10" text-anchor="middle" fill="#000" stroke="#000" >2 wt.%</text>
<line x1="152.7" y1="373.8" x2="152.7" y2="376.3" stroke="#111" stroke-width="1.3" />
<text x="152.7" y="390.1" font-size="10" text-anchor="middle" fill="#000" stroke="#000" >4 wt.%</text>
<line x1="198.78" y1="373.8" x2="198.78" y2="376.3" stroke="#111" stroke-width="1.3" />
<text x="198.78" y="390.1" font-size="10" text-anchor="middle" fill="#000" stroke="#000" >6 wt.%</text>
<line x1="244.86" y1="373.8" x2="244.86" y2="376.3" stroke="#111" stroke-width="1.3" />
<text x="244.86" y="390.1" font-size="10" text-anchor="middle" fill="#000" stroke="#000" >8 wt.%</text>
<path d="M37.5,373.8 V209.1 H267.9 V373.8 H37.5Z" fill="none" stroke="#111" stroke-width="1.4"/>
<text x="152.7" y="404.3" font-size="10.4" text-anchor="middle" fill="#000" stroke="#000" >Content</text>
<text x="41.5" y="228.2" font-size="16" text-anchor="start" fill="#000" stroke="#000" >C</text>
<text transform="translate(17.6,291.4) rotate(-90)" font-size="10.4" text-anchor="middle" fill="#000" stroke="#000">Softening / MPa</text>
<polyline points="60.54,264 106.62,274.98 152.7,285.96 198.78,269.49 244.86,242.04" fill="none" stroke="#5a8ad6" stroke-width="1.1" stroke-dasharray="3 2"/>
<polyline points="60.54,258.51 106.62,269.49 152.7,288.7 198.78,274.98 244.86,247.53" fill="none" stroke="#e07a34" stroke-width="1.1" stroke-dasharray="3 2"/>
<polyline points="60.54,247.53 106.62,274.98 152.7,291.45 198.78,269.49 244.86,242.04" fill="none" stroke="#404040" stroke-width="1.1" stroke-dasharray="3 2"/>
<line x1="60.54" y1="242.1" x2="60.54" y2="280.5" stroke="#161616" stroke-width="1.4" />
<line x1="57.94" y1="242.1" x2="63.14" y2="242.1" stroke="#161616" stroke-width="1.4" />
<line x1="57.94" y1="253.1" x2="63.14" y2="253.1" stroke="#161616" stroke-width="1.4" />
<line x1="57.94" y1="271.7" x2="63.14" y2="271.7" stroke="#161616" stroke-width="1.4" />
<line x1="57.94" y1="280.5" x2="63.14" y2="280.5" stroke="#161616" stroke-width="1.4" />
<line x1="106.62" y1="247.4" x2="106.62" y2="288.2" stroke="#161616" stroke-width="1.4" />
<line x1="104.02" y1="247.4" x2="109.22" y2="247.4" stroke="#161616" stroke-width="1.4" />
<line x1="104.02" y1="263.5" x2="109.22" y2="263.5" stroke="#161616" stroke-width="1.4" />
<line x1="104.02" y1="285.9" x2="109.22" y2="285.9" stroke="#161616" stroke-width="1.4" />
<line x1="104.02" y1="288.2" x2="109.22" y2="288.2" stroke="#161616" stroke-width="1.4" />
<line x1="152.7" y1="264.3" x2="152.7" y2="305.6" stroke="#161616" stroke-width="1.4" />
<line x1="150.1" y1="264.3" x2="155.3" y2="264.3" stroke="#161616" stroke-width="1.4" />
<line x1="150.1" y1="278.7" x2="155.3" y2="278.7" stroke="#161616" stroke-width="1.4" />
<line x1="150.1" y1="300" x2="155.3" y2="300" stroke="#161616" stroke-width="1.4" />
<line x1="150.1" y1="305.6" x2="155.3" y2="305.6" stroke="#161616" stroke-width="1.4" />
<line x1="198.78" y1="253.2" x2="198.78" y2="291.8" stroke="#161616" stroke-width="1.4" />
<line x1="196.18" y1="253.2" x2="201.38" y2="253.2" stroke="#161616" stroke-width="1.4" />
<line x1="196.18" y1="256.9" x2="201.38" y2="256.9" stroke="#161616" stroke-width="1.4" />
<line x1="196.18" y1="283.4" x2="201.38" y2="283.4" stroke="#161616" stroke-width="1.4" />
<line x1="196.18" y1="291.8" x2="201.38" y2="291.8" stroke="#161616" stroke-width="1.4" />
<line x1="244.86" y1="223.9" x2="244.86" y2="269" stroke="#161616" stroke-width="1.4" />
<line x1="242.26" y1="223.9" x2="247.46" y2="223.9" stroke="#161616" stroke-width="1.4" />
<line x1="242.26" y1="234.7" x2="247.46" y2="234.7" stroke="#161616" stroke-width="1.4" />
<line x1="242.26" y1="250.4" x2="247.46" y2="250.4" stroke="#161616" stroke-width="1.4" />
<line x1="242.26" y1="258.8" x2="247.46" y2="258.8" stroke="#161616" stroke-width="1.4" />
<line x1="242.26" y1="269" x2="247.46" y2="269" stroke="#161616" stroke-width="1.4" />
<path d="M60.54,260.8 L63.44,266.2 L57.64,266.2 Z" fill="#4478c8"/>
<path d="M106.62,271.78 L109.52,277.18 L103.72,277.18 Z" fill="#4478c8"/>
<path d="M152.7,282.76 L155.6,288.16 L149.8,288.16 Z" fill="#4478c8"/>
<path d="M198.78,266.29 L201.68,271.69 L195.88,271.69 Z" fill="#4478c8"/>
<path d="M244.86,238.84 L247.76,244.24 L241.96,244.24 Z" fill="#4478c8"/>
<path d="M60.54,255.61 L63.44,258.51 L60.54,261.41 L57.64,258.51 Z" fill="#c8601c"/>
<path d="M106.62,266.59 L109.52,269.49 L106.62,272.39 L103.72,269.49 Z" fill="#c8601c"/>
<path d="M152.7,285.81 L155.6,288.7 L152.7,291.6 L149.8,288.7 Z" fill="#c8601c"/>
<path d="M198.78,272.08 L201.68,274.98 L198.78,277.88 L195.88,274.98 Z" fill="#c8601c"/>
<path d="M244.86,244.63 L247.76,247.53 L244.86,250.43 L241.96,247.53 Z" fill="#c8601c"/>
<circle cx="60.54" cy="247.53" r="2.8" fill="#000"/>
<circle cx="106.62" cy="274.98" r="2.8" fill="#000"/>
<circle cx="152.7" cy="291.45" r="2.8" fill="#000"/>
<circle cx="198.78" cy="269.49" r="2.8" fill="#000"/>
<circle cx="244.86" cy="242.04" r="2.8" fill="#000"/>
<text x="70.3" y="246.1" font-size="10" text-anchor="start" fill="#000" stroke="#000">0.1 s<tspan font-size="7.2" dx="0.6" dy="-3.4">−1</tspan></text>
<text x="59.2" y="289.5" font-size="10" text-anchor="start" fill="#4478c8" stroke="#4478c8">0.001 s<tspan font-size="7.2" dx="0.6" dy="-3.4">−1</tspan></text>
<text x="209.2" y="285.5" font-size="10" text-anchor="start" fill="#c8601c" stroke="#c8601c">0.01 s<tspan font-size="7.2" dx="0.6" dy="-3.4">−1</tspan></text>
<line x1="310" y1="374.1" x2="313" y2="374.1" stroke="#111" stroke-width="1.3" />
<text x="303.6" y="377.7" font-size="10" text-anchor="end" fill="#000" stroke="#000" >0</text>
<line x1="310" y1="357.6" x2="313" y2="357.6" stroke="#111" stroke-width="1.3" />
<line x1="310" y1="341.1" x2="313" y2="341.1" stroke="#111" stroke-width="1.3" />
<text x="303.6" y="344.7" font-size="10" text-anchor="end" fill="#000" stroke="#000" >5</text>
<line x1="310" y1="324.6" x2="313" y2="324.6" stroke="#111" stroke-width="1.3" />
<line x1="310" y1="308.1" x2="313" y2="308.1" stroke="#111" stroke-width="1.3" />
<text x="303.6" y="311.7" font-size="10" text-anchor="end" fill="#000" stroke="#000" >10</text>
<line x1="310" y1="291.6" x2="313" y2="291.6" stroke="#111" stroke-width="1.3" />
<line x1="310" y1="275.1" x2="313" y2="275.1" stroke="#111" stroke-width="1.3" />
<text x="303.6" y="278.7" font-size="10" text-anchor="end" fill="#000" stroke="#000" >15</text>
<line x1="310" y1="258.6" x2="313" y2="258.6" stroke="#111" stroke-width="1.3" />
<line x1="310" y1="242.1" x2="313" y2="242.1" stroke="#111" stroke-width="1.3" />
<text x="303.6" y="245.7" font-size="10" text-anchor="end" fill="#000" stroke="#000" >20</text>
<line x1="310" y1="225.6" x2="313" y2="225.6" stroke="#111" stroke-width="1.3" />
<line x1="310" y1="209.1" x2="313" y2="209.1" stroke="#111" stroke-width="1.3" />
<text x="303.6" y="212.7" font-size="10" text-anchor="end" fill="#000" stroke="#000" >25</text>
<line x1="336.01" y1="374.1" x2="336.01" y2="376.6" stroke="#111" stroke-width="1.3" />
<text x="336.01" y="390.4" font-size="10" text-anchor="middle" fill="#000" stroke="#000" >0 wt.%</text>
<line x1="382.03" y1="374.1" x2="382.03" y2="376.6" stroke="#111" stroke-width="1.3" />
<text x="382.03" y="390.4" font-size="10" text-anchor="middle" fill="#000" stroke="#000" >2 wt.%</text>
<line x1="428.05" y1="374.1" x2="428.05" y2="376.6" stroke="#111" stroke-width="1.3" />
<text x="428.05" y="390.4" font-size="10" text-anchor="middle" fill="#000" stroke="#000" >4 wt.%</text>
<line x1="474.07" y1="374.1" x2="474.07" y2="376.6" stroke="#111" stroke-width="1.3" />
<text x="474.07" y="390.4" font-size="10" text-anchor="middle" fill="#000" stroke="#000" >6 wt.%</text>
<line x1="520.09" y1="374.1" x2="520.09" y2="376.6" stroke="#111" stroke-width="1.3" />
<text x="520.09" y="390.4" font-size="10" text-anchor="middle" fill="#000" stroke="#000" >8 wt.%</text>
<path d="M313,374.1 V209.1 H543.1 V374.1 H313Z" fill="none" stroke="#111" stroke-width="1.4"/>
<text x="428.05" y="404.6" font-size="10.4" text-anchor="middle" fill="#000" stroke="#000" >Content</text>
<text x="318.7" y="228.3" font-size="16" text-anchor="start" fill="#000" stroke="#000" >D</text>
<text transform="translate(288.2,290.6) rotate(-90)" font-size="10.4" text-anchor="middle" fill="#000" stroke="#000">Hardening / MPa</text>
<polyline points="336.01,291.6 382.03,277.74 428.05,250.02 474.07,281.7 520.09,296.22" fill="none" stroke="#5a8ad6" stroke-width="1.1" stroke-dasharray="3 2"/>
<polyline points="336.01,288.96 382.03,276.42 428.05,251.01 474.07,280.05 520.09,294.9" fill="none" stroke="#404040" stroke-width="1.1" stroke-dasharray="3 2"/>
<polyline points="336.01,290.28 382.03,277.08 428.05,248.7 474.07,283.02 520.09,297.54" fill="none" stroke="#e07a34" stroke-width="1.1" stroke-dasharray="3 2"/>
<line x1="336.01" y1="281.1" x2="336.01" y2="297.7" stroke="#161616" stroke-width="1.4" />
<line x1="333.41" y1="281.1" x2="338.61" y2="281.1" stroke="#161616" stroke-width="1.4" />
<line x1="333.41" y1="297.7" x2="338.61" y2="297.7" stroke="#161616" stroke-width="1.4" />
<line x1="382.03" y1="267.6" x2="382.03" y2="283.8" stroke="#161616" stroke-width="1.4" />
<line x1="379.43" y1="267.6" x2="384.63" y2="267.6" stroke="#161616" stroke-width="1.4" />
<line x1="379.43" y1="283.8" x2="384.63" y2="283.8" stroke="#161616" stroke-width="1.4" />
<line x1="428.05" y1="240.3" x2="428.05" y2="257.4" stroke="#161616" stroke-width="1.4" />
<line x1="425.45" y1="240.3" x2="430.65" y2="240.3" stroke="#161616" stroke-width="1.4" />
<line x1="425.45" y1="257.4" x2="430.65" y2="257.4" stroke="#161616" stroke-width="1.4" />
<line x1="474.07" y1="274.9" x2="474.07" y2="291" stroke="#161616" stroke-width="1.4" />
<line x1="471.47" y1="274.9" x2="476.67" y2="274.9" stroke="#161616" stroke-width="1.4" />
<line x1="471.47" y1="291" x2="476.67" y2="291" stroke="#161616" stroke-width="1.4" />
<line x1="520.09" y1="288.5" x2="520.09" y2="305" stroke="#161616" stroke-width="1.4" />
<line x1="517.49" y1="288.5" x2="522.69" y2="288.5" stroke="#161616" stroke-width="1.4" />
<line x1="517.49" y1="305" x2="522.69" y2="305" stroke="#161616" stroke-width="1.4" />
<path d="M336.01,288.4 L338.91,293.8 L333.11,293.8 Z" fill="#4478c8"/>
<path d="M382.03,274.54 L384.93,279.94 L379.13,279.94 Z" fill="#4478c8"/>
<path d="M428.05,246.82 L430.95,252.22 L425.15,252.22 Z" fill="#4478c8"/>
<path d="M474.07,278.5 L476.97,283.9 L471.17,283.9 Z" fill="#4478c8"/>
<path d="M520.09,293.02 L522.99,298.42 L517.19,298.42 Z" fill="#4478c8"/>
<path d="M336.01,287.38 L338.91,290.28 L336.01,293.18 L333.11,290.28 Z" fill="#c8601c"/>
<path d="M382.03,274.18 L384.93,277.08 L382.03,279.98 L379.13,277.08 Z" fill="#c8601c"/>
<path d="M428.05,245.8 L430.95,248.7 L428.05,251.6 L425.15,248.7 Z" fill="#c8601c"/>
<path d="M474.07,280.12 L476.97,283.02 L474.07,285.92 L471.17,283.02 Z" fill="#c8601c"/>
<path d="M520.09,294.64 L522.99,297.54 L520.09,300.44 L517.19,297.54 Z" fill="#c8601c"/>
<circle cx="336.01" cy="288.96" r="2.8" fill="#000"/>
<circle cx="382.03" cy="276.42" r="2.8" fill="#000"/>
<circle cx="428.05" cy="251.01" r="2.8" fill="#000"/>
<circle cx="474.07" cy="280.05" r="2.8" fill="#000"/>
<circle cx="520.09" cy="294.9" r="2.8" fill="#000"/>
<text x="347.6" y="278.8" font-size="10" text-anchor="start" fill="#000" stroke="#000">0.1 s<tspan font-size="7.2" dx="0.6" dy="-3.4">−1</tspan></text>
<text x="423.1" y="282.3" font-size="10" text-anchor="start" fill="#c8601c" stroke="#c8601c">0.01 s<tspan font-size="7.2" dx="0.6" dy="-3.4">−1</tspan></text>
<text x="450" y="259.6" font-size="10" text-anchor="start" fill="#4478c8" stroke="#4478c8">0.001 s<tspan font-size="7.2" dx="0.6" dy="-3.4">−1</tspan></text>
</svg>
</body></html>
